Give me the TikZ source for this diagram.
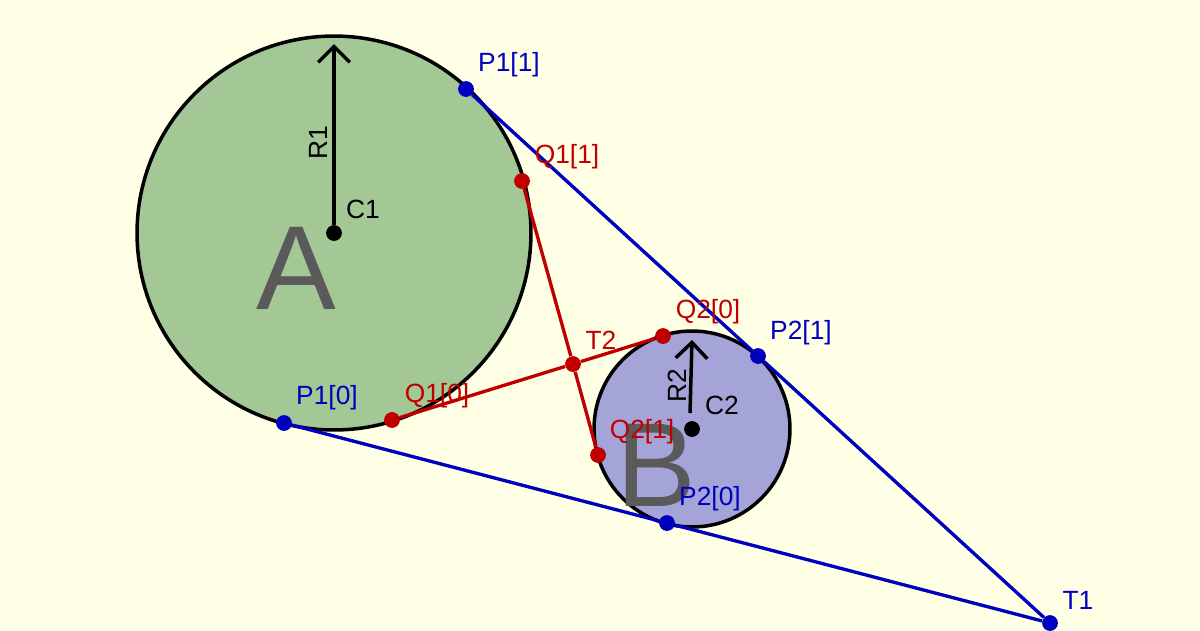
\documentclass[tikz,border=0pt]{standalone}
\usepackage{fontspec}
\setmainfont{Liberation Sans}
\usetikzlibrary{arrows.meta}
\definecolor{bg}{HTML}{FFFFE5}
\definecolor{ga}{HTML}{A3C795}
\definecolor{gb}{HTML}{A4A4D9}
\definecolor{bl}{HTML}{0000C0}
\definecolor{rd}{HTML}{C00000}
\definecolor{big}{HTML}{5A5A5A}
\begin{document}
\begin{tikzpicture}[x=0.02cm,y=-0.02cm,
 dotb/.style={circle,fill=bl,inner sep=0pt,minimum size=9pt},
 dotr/.style={circle,fill=rd,inner sep=0pt,minimum size=9pt},
 dotk/.style={circle,fill=black,inner sep=0pt,minimum size=9pt},
 lb/.style={text=bl,font=\fontsize{15}{15}\selectfont},
 lr/.style={text=rd,font=\fontsize{15}{15}\selectfont},
 lk/.style={text=black,font=\fontsize{15}{15}\selectfont},
 bline/.style={bl,line width=1.9pt},
 rline/.style={rd,line width=1.9pt}]
\fill[bg] (0,0) rectangle (1200,630);
\useasboundingbox (0,0) rectangle (1200,630);
\draw[black,line width=2pt,fill=ga] (334,233) circle[radius=3.94cm];
\draw[black,line width=2pt,fill=gb] (692,429) circle[radius=1.96cm];
\node[text=big,font=\fontsize{68}{68}\selectfont] (A) at (296,268) {A};
\node[text=big,font=\fontsize{68}{68}\selectfont] (B) at (656,465) {B};
\node[dotk] (C1) at (334,233) {};
\node[dotk] (C2) at (692,429) {};
\coordinate (R1e) at (334,44);
\coordinate (R2e) at (692,340);
\draw[-{Straight Barb[length=9pt,width=18pt]},line width=2pt] (C1) -- (R1e);
\draw[-{Straight Barb[length=9pt,width=18pt]},line width=2pt] (690,413) -- (R2e);
\node[lk,rotate=90] at (318,143) {R1};
\node[lk,rotate=90] at (677,386) {R2};
\node[lk] at (363,209) {C1};
\node[lk] at (722,405) {C2};
\node[dotb] (P11) at (466,89) {};
\node[dotb] (P21) at (758,356) {};
\node[dotb] (T1) at (1050,623) {};
\node[dotb] (P10) at (284,423) {};
\node[dotb] (P20) at (667,523) {};
\draw[bline] (P11) -- (P21) -- (T1) -- (P20) -- (P10);
\node[dotr] (Q11) at (522,181) {};
\node[dotr] (Q21) at (598,455) {};
\node[dotr] (Q10) at (392,420) {};
\node[dotr] (Q20) at (663,336) {};
\node[dotr] (T2) at (573,364) {};
\draw[rline] (Q11) -- (T2) -- (Q21);
\draw[rline] (Q10) -- (T2) -- (Q20);
\node[lb] at (509,65) {P1[1]};
\node[lb] at (801,333) {P2[1]};
\node[lb] at (1078,600) {T1};
\node[lb] at (327,398) {P1[0]};
\node[lb] at (710,499) {P2[0]};
\node[lr] at (567,157) {Q1[1]};
\node[lr] at (642,432) {Q2[1]};
\node[lr] at (437,396) {Q1[0]};
\node[lr] at (708,312) {Q2[0]};
\node[lr] at (601,340) {T2};
\end{tikzpicture}
\end{document}
